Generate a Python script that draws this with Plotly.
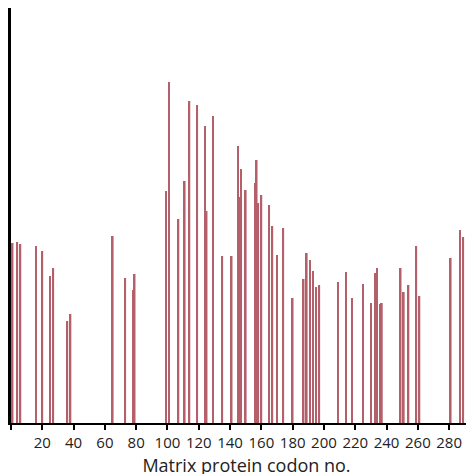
import plotly.graph_objects as go

# codon positions and heights (arbitrary units)
codons = [1, 4, 6, 16, 20, 25, 27, 36, 38, 65, 73, 78, 79, 99, 101, 107, 111, 114, 119,
          124, 125, 129, 135, 141, 145, 146, 147, 150, 156, 157, 158, 160, 165, 167, 170,
          174, 180, 187, 189, 191, 193, 195, 197, 209, 214, 218, 225, 230, 233, 234, 236,
          237, 249, 251, 254, 259, 261, 281, 287, 289, 293]
heights = [180, 181, 179, 177, 172, 147, 155, 102, 109, 187, 145, 133, 149, 232, 341, 204,
           242, 322, 318, 297, 212, 307, 167, 167, 277, 226, 254, 233, 240, 263, 220, 228,
           218, 197, 168, 195, 125, 144, 170, 163, 152, 136, 138, 141, 151, 125, 139, 120,
           150, 155, 119, 120, 155, 131, 138, 177, 127, 165, 193, 186, 147]
tick_vals = list(range(0, 301, 20))

fig = go.Figure(go.Bar(
    x=codons, y=heights, width=1.1,
    marker=dict(color="#b4606a", line=dict(width=0)),
))

fig.update_layout(
    width=474, height=474,
    margin=dict(l=3, r=0, t=0, b=59),
    plot_bgcolor="white", paper_bgcolor="white",
    showlegend=False,
    font=dict(family="Open Sans", color="#222"),
)
fig.update_xaxes(
    range=[0, 301], tickvals=tick_vals, showgrid=False, zeroline=False,
    automargin=False,
    showline=True, linecolor="black", linewidth=2,
    ticks="outside", ticklen=5, tickwidth=2, tickcolor="black",
    tickfont=dict(size=15),
    title=dict(text="Matrix protein codon no.", font=dict(size=18), standoff=8),
)
fig.update_yaxes(
    range=[0, 415], showticklabels=False, showgrid=False, zeroline=False,
    automargin=False,
    showline=True, linecolor="black", linewidth=3,
)

fig.write_html("out.html")
